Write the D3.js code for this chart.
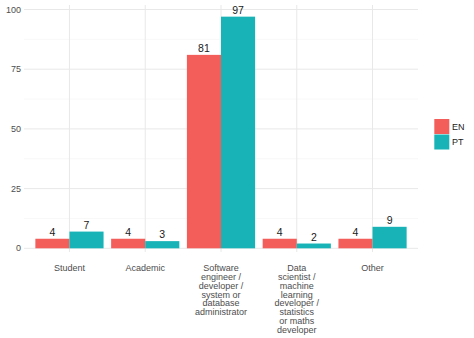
<!DOCTYPE html>
<html><head><meta charset="utf-8">
<script src="https://cdn.jsdelivr.net/npm/d3@7"></script>
<style>body{margin:0;background:#fff}svg{display:block;font-family:"Liberation Sans",Arial,sans-serif}</style>
</head><body><svg id="c" width="474" height="338"></svg>
<script>
const categories = ["Student","Academic","Software engineer / developer / system or database administrator","Data scientist / machine learning developer / statistics or maths developer","Other"];
const categoryLines = [["Student"],["Academic"],["Software","engineer /","developer /","system or","database","administrator"],["Data","scientist /","machine","learning","developer /","statistics","or maths","developer"],["Other"]];
const seriesNames = ["EN","PT"];
const valuesEN = [4,4,81,4,4];
const valuesPT = [7,3,97,2,9];
const yTicks = [0,25,50,75,100];
const yMinor = [12.5,37.5,62.5,87.5];
const colors = ["#F35E5A","#17B3B6"];

const svg = d3.select("#c");
const L = 24, R = 418, T = 5, B = 252;
const y = d3.scaleLinear().domain([0,100]).range([248.3,9.5]);
const x = d3.scaleBand().domain(categories).range([L,R]).paddingInner(0.1).paddingOuter(0.15);
const xs = d3.scaleBand().domain(seriesNames).range([0,x.bandwidth()]);

const g = svg.append("g");
// minor gridlines
g.selectAll(".ym").data(yMinor).join("line")
  .attr("x1",L).attr("x2",R).attr("y1",d=>y(d)).attr("y2",d=>y(d))
  .attr("stroke","#f3f3f3").attr("stroke-width",0.6);
g.selectAll(".yM").data(yTicks).join("line")
  .attr("x1",L).attr("x2",R).attr("y1",d=>y(d)).attr("y2",d=>y(d))
  .attr("stroke","#e8e8e8").attr("stroke-width",1);
g.selectAll(".xM").data(categories).join("line")
  .attr("x1",d=>x(d)+x.bandwidth()/2).attr("x2",d=>x(d)+x.bandwidth()/2)
  .attr("y1",T).attr("y2",B)
  .attr("stroke","#e8e8e8").attr("stroke-width",1);

// y labels
svg.append("g").selectAll("text").data(yTicks).join("text")
  .attr("x",21).attr("y",d=>y(d)).attr("dy","0.35em")
  .attr("text-anchor","end").attr("font-size",9).attr("fill","#4d4d4d")
  .text(d=>d);

// bars
const series = [valuesEN, valuesPT];
series.forEach((vals,si)=>{
  const name = seriesNames[si];
  svg.append("g").selectAll("rect").data(categories).join("rect")
    .attr("x",(c)=>x(c)+xs(name)).attr("width",xs.bandwidth())
    .attr("y",(c,i)=>y(vals[i])).attr("height",(c,i)=>y(0)-y(vals[i]))
    .attr("fill",colors[si]);
  svg.append("g").selectAll("text").data(categories).join("text")
    .attr("x",(c)=>x(c)+xs(name)+xs.bandwidth()/2)
    .attr("y",(c,i)=>y(vals[i])-3)
    .attr("text-anchor","middle").attr("font-size",10.5).attr("fill","#1a1a1a")
    .text((c,i)=>vals[i]);
});

// x labels
const xl = svg.append("g");
categories.forEach((c,i)=>{
  const t = xl.append("text").attr("text-anchor","middle").attr("font-size",9).attr("fill","#4d4d4d")
    .attr("x",x(c)+x.bandwidth()/2).attr("y",271);
  categoryLines[i].forEach((ln,j)=>{
    t.append("tspan").attr("x",x(c)+x.bandwidth()/2).attr("y",271+j*8.85).text(ln);
  });
});

// legend
const lg = svg.append("g");
seriesNames.forEach((n,i)=>{
  lg.append("rect").attr("x",434.3).attr("y",119+i*15.5).attr("width",15).attr("height",15).attr("fill",colors[i]);
  lg.append("text").attr("x",452).attr("y",119+i*15.5+7.5).attr("dy","0.35em")
    .attr("font-size",9).attr("fill","#1a1a1a").text(n);
});
</script></body></html>
